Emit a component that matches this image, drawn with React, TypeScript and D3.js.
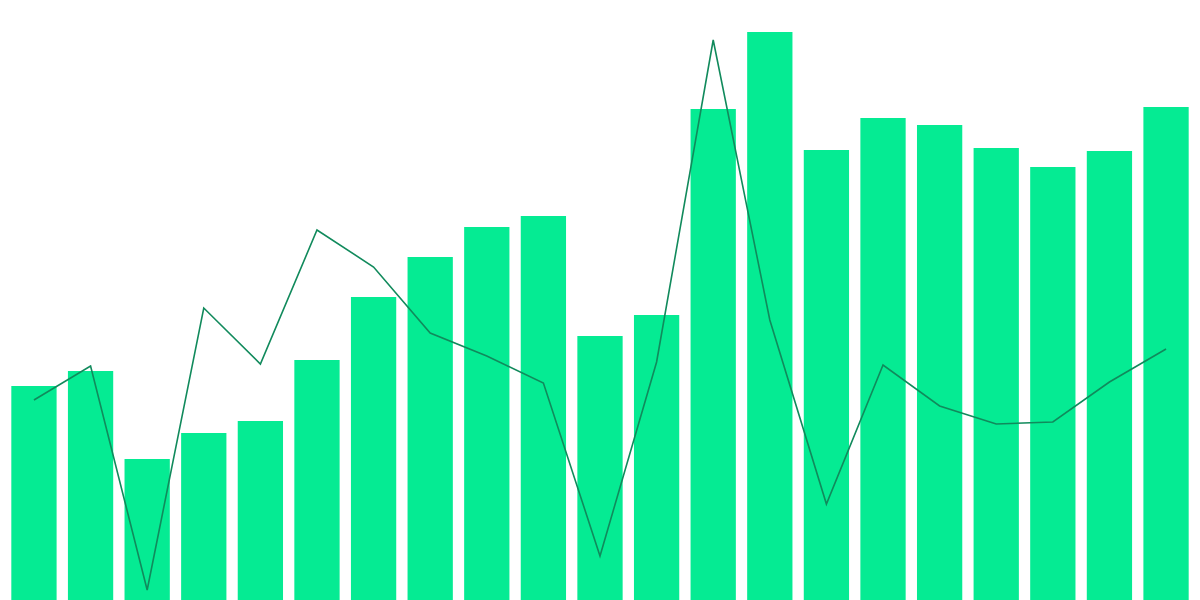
import React from "react";
import * as d3 from "d3";

const categories = Array.from({ length: 21 }, (_, i) => `C${i + 1}`);
const barValues = [214, 229, 141, 167, 179, 240, 303, 343, 373, 384, 264, 285, 491, 568, 450, 482, 475, 452, 433, 449, 493];
const lineValues = [200, 234, 10, 292, 236, 370, 333, 267, 244, 217, 44, 238, 560, 280, 96, 235, 194, 176, 178, 218, 251];

const W = 1200;
const H = 600;

export default function App() {
  const x = d3.scaleBand<string>().domain(categories).range([0, W]).padding(0.2);
  const y = d3.scaleLinear().domain([0, 600]).range([H, 0]);
  const y2 = d3.scaleLinear().domain([0, 600]).range([H, 0]);
  const line = d3
    .line<number>()
    .x((_, i) => (x(categories[i]) as number) + x.bandwidth() / 2)
    .y((d) => y2(d));
  return (
    <svg
      width={W}
      height={H}
      style={{ position: "absolute", left: 0, top: 0, display: "block" }}
    >
      <rect x={0} y={0} width={W} height={H} fill="#ffffff" />
      {barValues.map((v, i) => (
        <rect
          key={i}
          x={x(categories[i])}
          y={y(v)}
          width={x.bandwidth()}
          height={H - y(v)}
          fill="#05EB93"
        />
      ))}
      <path d={line(lineValues) || ""} fill="none" stroke="#118A5C" strokeWidth={1.6} />
    </svg>
  );
}
